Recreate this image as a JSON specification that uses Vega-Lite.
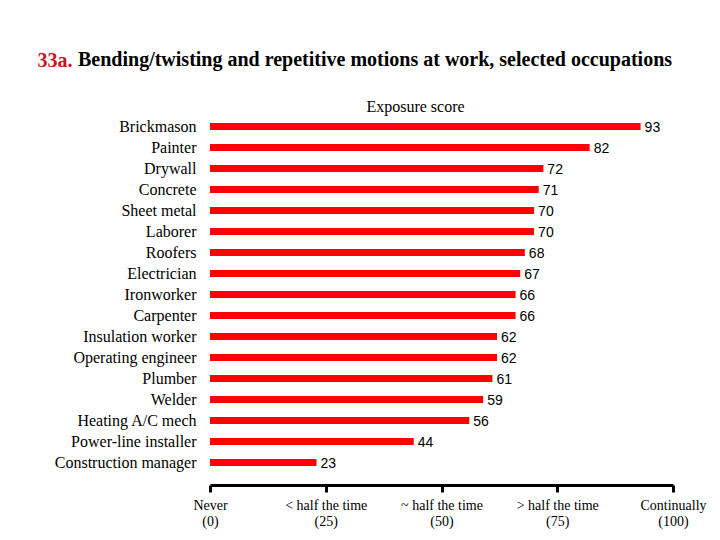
{
  "$schema": "https://vega.github.io/schema/vega-lite/v6.json",
  "width": 463,
  "height": 357,
  "autosize": {"type": "none"},
  "padding": {"left": 210, "top": 116, "right": 47, "bottom": 67},
  "background": "white",
  "config": {"view": {"stroke": null}},
  "title": {
    "text": "Bending/twisting and repetitive motions at work, selected occupations",
    "anchor": "start",
    "frame": "group",
    "dx": -132,
    "dy": 20,
    "font": "Liberation Serif",
    "fontSize": 20,
    "fontWeight": "bold",
    "color": "black",
    "offset": 0
  },
  "data": {
    "values": [
      {"occupation": "Brickmason", "score": 93},
      {"occupation": "Painter", "score": 82},
      {"occupation": "Drywall", "score": 72},
      {"occupation": "Concrete", "score": 71},
      {"occupation": "Sheet metal", "score": 70},
      {"occupation": "Laborer", "score": 70},
      {"occupation": "Roofers", "score": 68},
      {"occupation": "Electrician", "score": 67},
      {"occupation": "Ironworker", "score": 66},
      {"occupation": "Carpenter", "score": 66},
      {"occupation": "Insulation worker", "score": 62},
      {"occupation": "Operating engineer", "score": 62},
      {"occupation": "Plumber", "score": 61},
      {"occupation": "Welder", "score": 59},
      {"occupation": "Heating A/C mech", "score": 56},
      {"occupation": "Power-line installer", "score": 44},
      {"occupation": "Construction manager", "score": 23}
    ]
  },
  "encoding": {
    "y": {
      "field": "occupation",
      "type": "nominal",
      "sort": null,
      "scale": {"paddingInner": 0, "paddingOuter": 0},
      "axis": {
        "title": "33a.",
        "titleColor": "#c8161d",
        "titleFont": "Liberation Serif",
        "titleFontSize": 20,
        "titleFontWeight": "bold",
        "titleAngle": 0,
        "titleAlign": "left",
        "titleBaseline": "middle",
        "titleX": -173,
        "titleY": -56,
        "domain": false,
        "ticks": false,
        "labelPadding": 14,
        "labelFont": "Liberation Serif",
        "labelFontSize": 16,
        "labelColor": "black"
      }
    },
    "x": {
      "field": "score",
      "type": "quantitative",
      "scale": {"domain": [0, 100], "nice": false},
      "axis": {
        "title": "Exposure score",
        "titleFont": "Liberation Serif",
        "titleFontSize": 16,
        "titleFontWeight": "normal",
        "titleColor": "black",
        "titleX": 205,
        "titleY": -379,
        "titleAlign": "center",
        "titleBaseline": "middle",
        "offset": 12,
        "values": [0, 25, 50, 75, 100],
        "grid": false,
        "domainColor": "black",
        "domainWidth": 3,
        "tickColor": "black",
        "tickWidth": 3,
        "tickSize": 7,
        "labelPadding": 6,
        "labelFlush": false,
        "labelAlign": "center",
        "labelFont": "Liberation Serif",
        "labelFontSize": 14,
        "labelColor": "black",
        "labelLineHeight": 16,
        "labelBaseline": "top",
        "labelExpr": "datum.value == 0 ? ['Never', '(0)'] : datum.value == 25 ? ['< half the time', '(25)'] : datum.value == 50 ? ['~ half the time', '(50)'] : datum.value == 75 ? ['> half the time', '(75)'] : ['Continually', '(100)']"
      }
    }
  },
  "layer": [
    {"mark": {"type": "bar", "color": "#ff0000", "size": 7}},
    {
      "mark": {"type": "text", "align": "left", "baseline": "middle", "dx": 4, "dy": 1, "font": "Liberation Sans", "fontSize": 14, "color": "black"},
      "encoding": {"text": {"field": "score", "type": "quantitative"}}
    }
  ]
}
